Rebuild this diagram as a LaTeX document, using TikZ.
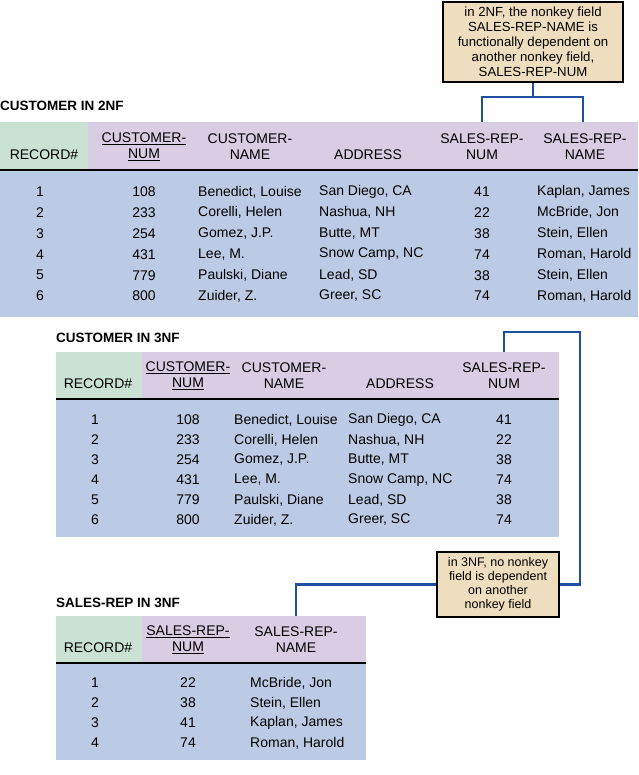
\documentclass[tikz,border=0pt]{standalone}
\usepackage{fontspec}
\setmainfont{Liberation Sans}
\definecolor{hgreen}{HTML}{C9E2D3}
\definecolor{hpurp}{HTML}{D9CDE3}
\definecolor{bblue}{HTML}{BCCBE5}
\definecolor{tan}{HTML}{EFDDBF}
\definecolor{lblue}{HTML}{1F4FA0}
\begin{document}
\begin{tikzpicture}[x=1pt,y=-1pt,
  txt/.style={inner sep=0pt,font=\fontsize{14}{15}\selectfont},
  hd/.style={txt,align=center,font=\fontsize{14}{16}\selectfont},
  ttl/.style={inner sep=0pt,anchor=west,font=\fontsize{13.5}{14}\selectfont\bfseries},
  cl/.style={txt,anchor=west},
  note/.style={draw=black,line width=1.6pt,fill=tan,align=center,inner sep=2pt,font=\fontsize{13.2}{15}\selectfont},
  conn/.style={draw=lblue,line width=2.6pt}]
\useasboundingbox (0,0) rectangle (638,775);
% ---------- Table 1
\node[ttl] (t1) at (0,106) {CUSTOMER IN 2NF};
\fill[hgreen] (0,122) rectangle (88,170);
\fill[hpurp] (88,122) rectangle (638,170);
\fill[bblue] (0,170) rectangle (638,317);
\draw[line width=1.5pt] (0,170) -- (638,170);
\node[txt] (a1) at (44,155) {RECORD\#};
\node[hd] (a2) at (144,147) {\underline{CUSTOMER-}\\\underline{NUM}};
\node[hd] (a3) at (250,147) {CUSTOMER-\\NAME};
\node[txt] (a4) at (368,155) {ADDRESS};
\node[hd] (a5) at (482,147) {SALES-REP-\\NUM};
\node[hd] (a6) at (585,147) {SALES-REP-\\NAME};
\foreach \r/\n/\nm/\ad/\sn/\sm [count=\i] in {1/108/{Benedict, Louise}/{San Diego, CA}/41/{Kaplan, James},2/233/{Corelli, Helen}/{Nashua, NH}/22/{McBride, Jon},3/254/{Gomez, J.P.}/{Butte, MT}/38/{Stein, Ellen},4/431/{Lee, M.}/{Snow Camp, NC}/74/{Roman, Harold},5/779/{Paulski, Diane}/{Lead, SD}/38/{Stein, Ellen},6/800/{Zuider, Z.}/{Greer, SC}/74/{Roman, Harold}}{
  \pgfmathsetmacro\yy{192+20.8*(\i-1)}
  \node[txt] (ar\i) at (40,\yy) {\r};
  \node[txt] (an\i) at (144,\yy) {\n};
  \node[cl] (am\i) at (198,\yy) {\nm};
  \node[cl] (ad\i) at (319,\yy) {\ad};
  \node[txt] (as\i) at (482,\yy) {\sn};
  \node[cl] (at\i) at (537,\yy) {\sm};
}
\node[note,minimum width=180,minimum height=80] (n1) at (533,42) {in 2NF, the nonkey field\\SALES-REP-NAME is\\functionally dependent on\\another nonkey field,\\SALES-REP-NUM};
\coordinate (c1a) at (482,122);
\coordinate (c1b) at (583,122);
\draw[conn] (n1.south) -- (533,97) -| (c1a);
\draw[conn] (533,97) -| (c1b);
% ---------- Table 2
\node[ttl] (t2) at (56,338) {CUSTOMER IN 3NF};
\fill[hgreen] (56,352) rectangle (142,399);
\fill[hpurp] (142,352) rectangle (559,399);
\fill[bblue] (56,399) rectangle (559,537);
\draw[line width=1.5pt] (56,399) -- (559,399);
\node[txt] (b1) at (98,384) {RECORD\#};
\node[hd] (b2) at (188,376) {\underline{CUSTOMER-}\\\underline{NUM}};
\node[hd] (b3) at (284,376) {CUSTOMER-\\NAME};
\node[txt] (b4) at (400,384) {ADDRESS};
\node[hd] (b5) at (504,376) {SALES-REP-\\NUM};
\foreach \r/\n/\nm/\ad/\sn [count=\i] in {1/108/{Benedict, Louise}/{San Diego, CA}/41,2/233/{Corelli, Helen}/{Nashua, NH}/22,3/254/{Gomez, J.P.}/{Butte, MT}/38,4/431/{Lee, M.}/{Snow Camp, NC}/74,5/779/{Paulski, Diane}/{Lead, SD}/38,6/800/{Zuider, Z.}/{Greer, SC}/74}{
  \pgfmathsetmacro\yy{420+20*(\i-1)}
  \node[txt] (br\i) at (95,\yy) {\r};
  \node[txt] (bn\i) at (188,\yy) {\n};
  \node[cl] (bm\i) at (234,\yy) {\nm};
  \node[cl] (bd\i) at (348,\yy) {\ad};
  \node[txt] (bs\i) at (504,\yy) {\sn};
}
% ---------- Table 3
\node[ttl] (t3) at (56,603) {SALES-REP IN 3NF};
\fill[hgreen] (56,616) rectangle (142,663);
\fill[hpurp] (142,616) rectangle (366,663);
\fill[bblue] (56,663) rectangle (366,760);
\draw[line width=1.5pt] (56,663) -- (366,663);
\node[txt] (d1) at (98,648) {RECORD\#};
\node[hd] (d2) at (188,640) {\underline{SALES-REP-}\\\underline{NUM}};
\node[hd] (d3) at (296,640) {SALES-REP-\\NAME};
\foreach \r/\n/\nm [count=\i] in {1/22/{McBride, Jon},2/38/{Stein, Ellen},3/41/{Kaplan, James},4/74/{Roman, Harold}}{
  \pgfmathsetmacro\yy{683+20*(\i-1)}
  \node[txt] (dr\i) at (95,\yy) {\r};
  \node[txt] (dn\i) at (188,\yy) {\n};
  \node[cl] (dm\i) at (250,\yy) {\nm};
}
% ---------- Callout 2
\node[note,minimum width=122,minimum height=65,inner sep=1pt,font=\fontsize{12.5}{14}\selectfont] (n2) at (498,584.5) {in 3NF, no nonkey\\field is dependent\\on another\\nonkey field};
\coordinate (c2a) at (504,352);
\coordinate (c2b) at (296,616);
\draw[conn] (c2a) -- (504,332) -- (580,332) |- (n2.east);
\draw[conn] (n2.west) -| (c2b);
\end{tikzpicture}
\end{document}
